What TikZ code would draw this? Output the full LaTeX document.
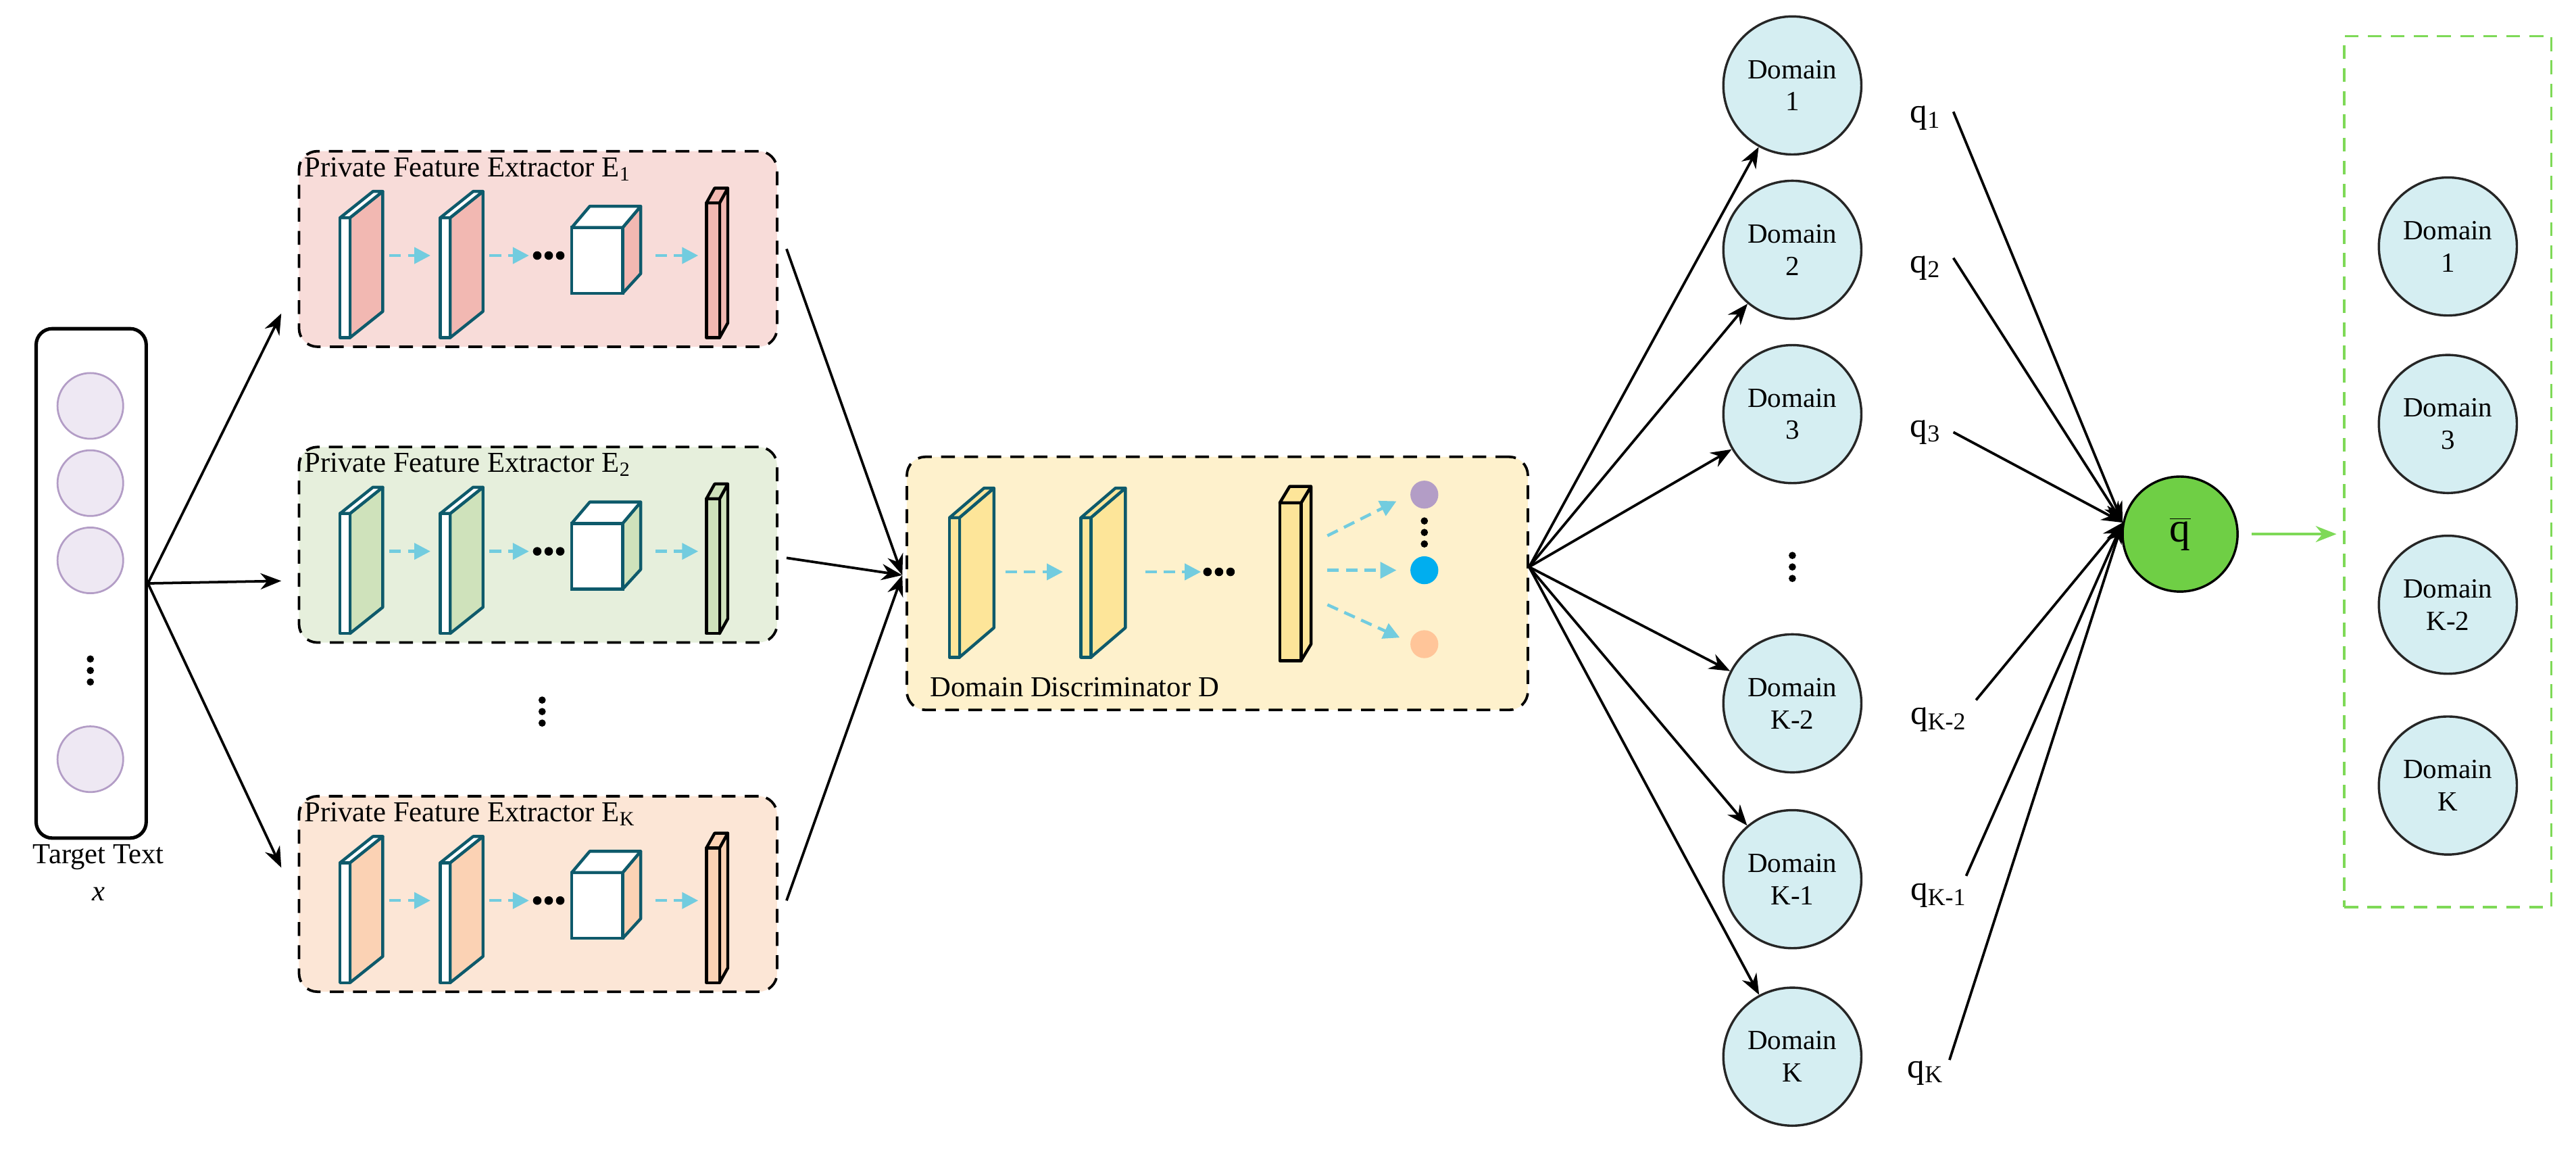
\documentclass[tikz,border=0pt]{standalone}
\usepackage{fontspec}
\setmainfont{Liberation Serif}
\usetikzlibrary{arrows.meta,calc}
\definecolor{tl}{HTML}{0E5A6B}
\definecolor{cy}{HTML}{72CCDF}
\definecolor{bgA}{HTML}{F8DCD9}\definecolor{plA}{HTML}{F2B8B2}
\definecolor{bgB}{HTML}{E6EFDC}\definecolor{plB}{HTML}{CFE2BB}
\definecolor{bgC}{HTML}{FCE6D6}\definecolor{plC}{HTML}{FBD2B4}
\definecolor{bgD}{HTML}{FEF1CC}\definecolor{plD}{HTML}{FDE599}
\definecolor{cpu}{HTML}{B39DC6}\definecolor{cbl}{HTML}{00AEEF}\definecolor{cpe}{HTML}{FFC599}
\definecolor{qg}{HTML}{6FCF45}\definecolor{gl}{HTML}{7ED957}
\definecolor{domc}{HTML}{D5EEF2}
\definecolor{lvs}{HTML}{B39DC6}\definecolor{lvf}{HTML}{EEE8F3}
\newcommand\fmap[9]{%
 \draw[draw=#9,line width=1.3pt,fill=#7,line join=round] ({#1+#4},#2) -- ({#1+#4+#5},{#2-#6}) -- ({#1+#4+#5},{#3-#6}) -- ({#1+#4},#3) -- cycle;
 \draw[draw=#9,line width=1.3pt,fill=#8,line join=round] (#1,#2) rectangle ({#1+#4},#3);
 \draw[draw=#9,line width=1.3pt,fill=#8,line join=round] (#1,#2) -- ({#1+#5},{#2-#6}) -- ({#1+#4+#5},{#2-#6}) -- ({#1+#4},#2) -- cycle;}
\newcommand\cubeF[3]{% x ytop fill
 \draw[draw=tl,line width=1.3pt,fill=#3,line join=round] ({#1+31},#2) -- ({#1+42},{#2-13}) -- ({#1+42},{#2+28}) -- ({#1+31},{#2+40}) -- cycle;
 \draw[draw=tl,line width=1.3pt,fill=white] (#1,#2) rectangle ({#1+31},{#2+40});
 \draw[draw=tl,line width=1.3pt,fill=white,line join=round] (#1,#2) -- ({#1+11},{#2-13}) -- ({#1+42},{#2-13}) -- ({#1+31},#2) -- cycle;}
\newcommand\hdots[2]{\foreach \k in {0,1,2} \fill ({#1+\k*7},#2) circle (2.6);}
\newcommand\vdts[2]{\foreach \k in {0,1,2} \fill (#1,{#2+\k*7}) circle (2.2);}
\newcommand\darr[2]{\draw[cy,line width=1.3pt,dash pattern=on 5pt off 3pt,-{Triangle[length=7pt,width=7pt]}] #1 -- #2;}
\newcommand\extractor[5]{% name ycenter fill planefill label
 \node[box,fill=#3,minimum width=291*0.025cm,minimum height=119*0.025cm] (#1) at (327.5,#2) {};
 \node[anchor=north west,inner sep=0pt,font=\fontsize{12.5}{14}\selectfont] at (185,{#2-56}) {Private Feature Extractor E\textsubscript{#5}};
 \fmap{207}{#2-19}{#2+54}{6}{20}{16}{#4}{white}{tl}
 \darr{(237,{#2+4})}{(262,{#2+4})}
 \fmap{268}{#2-19}{#2+54}{6}{20}{16}{#4}{white}{tl}
 \darr{(298,{#2+4})}{(322,{#2+4})}
 \hdots{327}{#2+4}
 \cubeF{348}{#2-13}{#4}
 \darr{(399,{#2+4})}{(425,{#2+4})}
 \fmap{430}{#2-28}{#2+54}{8}{5}{9}{#4}{#4}{black}}
\tikzset{
 box/.style={draw,line width=1.1pt,rounded corners=8pt,dash pattern=on 6pt off 4pt},
 dom/.style={circle,draw=black!85,line width=1pt,fill=domc,minimum size=84*0.025cm,inner sep=0pt,align=center,font=\fontsize{12}{14}\selectfont},
 arr/.style={line width=1.1pt,-{Stealth[length=9pt,width=7pt]}},
 ql/.style={font=\fontsize{15}{16}\selectfont,inner sep=1pt},
}
\begin{document}
\begin{tikzpicture}[x=0.025cm,y=-0.025cm]
\useasboundingbox (0,0) rectangle (1568,708);
% target text
\node[draw,line width=1.5pt,rounded corners=7pt,minimum width=67*0.025cm,minimum height=310*0.025cm] (tt) at (55.5,355) {};
\foreach \yy in {247,294,341,462}
 \node[circle,draw=lvs,fill=lvf,minimum size=40*0.025cm,line width=0.8pt] at (55,\yy) {};
\vdts{55}{401}
\node[align=center,font=\fontsize{12.5}{16}\selectfont] (ttl) at (60,531) {Target Text\\\textit{x}};
% extractors
\extractor{e1}{151.5}{bgA}{plA}{1}
\extractor{e2}{331.5}{bgB}{plB}{2}
\extractor{ek}{544}{bgC}{plC}{K}
\vdts{330}{426}
% discriminator
\node[box,fill=bgD,minimum width=378*0.025cm,minimum height=154*0.025cm] (d) at (741,355) {};
\fmap{578}{315}{400}{6}{21}{18}{plD}{plD}{tl}
\darr{(612,348)}{(647,348)}
\fmap{658}{315}{400}{6}{21}{18}{plD}{plD}{tl}
\darr{(697,348)}{(731,348)}
\hdots{735}{348}
\fmap{779}{306}{402}{13}{6}{10}{plD}{plD}{black}
\node[circle,fill=cpu,minimum size=17*0.025cm,inner sep=0pt] (c1) at (867,301) {};
\node[circle,fill=cbl,minimum size=17*0.025cm,inner sep=0pt] (c2) at (867,347) {};
\node[circle,fill=cpe,minimum size=17*0.025cm,inner sep=0pt] (c3) at (867,392) {};
\vdts{867}{317}
\darr{(808,326)}{(850,305)}
\darr{(808,347)}{(850,347)}
\darr{(808,368)}{(852,388)}
\node[anchor=west,inner sep=0pt,font=\fontsize{12.5}{14}\selectfont] at (566,418) {Domain Discriminator D};
% arrows to extractors
\coordinate (xo) at (tt.east);
\draw[arr] (xo) -- ($(e1.south west)+(-10,-21)$);
\draw[arr] (xo) -- ($(e2.west)+(-10,22)$);
\draw[arr] (xo) -- ($(ek.west)+(-10,-16)$);
\draw[arr] ($(e1.east)+(5,0)$) -- ($(d.west)+(-2,-5)$);
\draw[arr] ($(e2.east)+(5,8)$) -- ($(d.west)+(-2,-5)$);
\draw[arr] ($(ek.east)+(5,4)$) -- ($(d.west)+(-2,-5)$);
% domains
\coordinate (ds) at ($(d.east)+(0,-10)$);
\foreach \n/\yy/\t in {1/52/1,2/152/2,3/252/3,4/428/K-2,5/535/K-1,6/643/K}
 \node[dom] (dm\n) at (1091,\yy) {Domain\\\t};
\foreach \n in {1,...,6} \draw[arr] (ds) -- (dm\n);
\vdts{1091}{338}
\node[ql] (q1) at (1172,72) {q\textsubscript{1}};
\node[ql] (q2) at (1172,163) {q\textsubscript{2}};
\node[ql] (q3) at (1172,263) {q\textsubscript{3}};
\node[ql] (q4) at (1180,438) {q\textsubscript{K-2}};
\node[ql] (q5) at (1180,545) {q\textsubscript{K-1}};
\node[ql] (q6) at (1172,653) {q\textsubscript{K}};
\node[circle,draw,line width=1pt,fill=qg,minimum size=70*0.025cm,inner sep=0pt,font=\fontsize{18}{18}\selectfont] (qb) at (1327,325) {$\overline{\hbox{q}}$};
\coordinate (qi) at (1292,318);
\draw[arr] ($(q1.east)+(6,-4)$) -- (qi);
\draw[arr] ($(q2.east)+(6,-6)$) -- (qi);
\draw[arr] ($(q3.east)+(6,0)$) -- (qi);
\draw[arr] ($(q4.east)+(4,-12)$) -- (qi);
\draw[arr] ($(q5.east)+(-2,-12)$) -- (qi);
\draw[arr] ($(q6.east)+(2,-8)$) -- (qi);
% output
\node[draw=gl,line width=1.1pt,dash pattern=on 6pt off 4pt,minimum width=126*0.025cm,minimum height=530*0.025cm] (out) at (1490,287) {};
\draw[gl,line width=1.1pt,-{Stealth[length=9pt,width=7pt]}] ($(qb.east)+(8,0)$) -- ($(out.west)+(-4,38)$);
\node[dom] (o1) at (1490,150) {Domain\\1};
\node[dom] (o2) at (1490,258) {Domain\\3};
\node[dom] (o3) at (1490,368) {Domain\\K-2};
\node[dom] (o4) at (1490,478) {Domain\\K};
\end{tikzpicture}
\end{document}
